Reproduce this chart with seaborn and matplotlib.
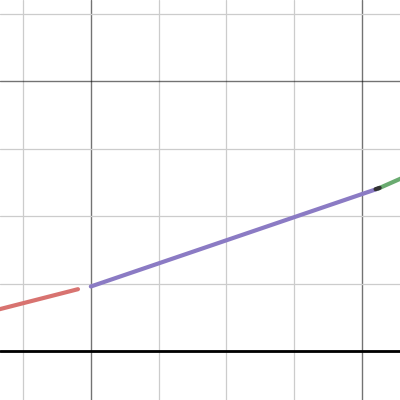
import matplotlib
matplotlib.use("Agg")
import matplotlib.pyplot as plt
import seaborn as sns
import numpy as np

red_x = [-1.4, -0.19]
red_y = [0.61, 0.92]
purple_x = [0.0, 4.24]
purple_y = [0.96, 2.41]
green_x = [4.24, 4.6]
green_y = [2.41, 2.57]

sns.set_style("white")
fig = plt.figure(figsize=(4, 4), dpi=100)
ax = fig.add_axes([0, 0, 1, 1])
ax.set_xlim(-1.34, 4.56)
ax.set_ylim(-0.72, 5.2)
for v in np.arange(-1, 5):
    major = (v % 4 == 0)
    ax.axvline(v, color="#000" if major else "#ccc", lw=1 if major else 0.9, alpha=0.55 if major else 1, zorder=0)
for h in np.arange(0, 6):
    major = (h % 4 == 0)
    ax.axhline(h, color="#000" if major else "#ccc", lw=1 if major else 0.9, alpha=0.55 if major else 1, zorder=0)
ax.axhline(0, color="black", lw=2, zorder=1)
sns.lineplot(x=red_x, y=red_y, ax=ax, color="#d87370", lw=3, zorder=3)
sns.lineplot(x=purple_x, y=purple_y, ax=ax, color="#8b7bc4", lw=3, zorder=3)
sns.lineplot(x=green_x, y=green_y, ax=ax, color="#6aab70", lw=3, zorder=3)
ax.plot([4.2, 4.26], [2.4, 2.42], color="#333", lw=3, zorder=4)
ax.set_xticks([]); ax.set_yticks([])
for s in ax.spines.values():
    s.set_visible(False)
fig.savefig("out.png")
